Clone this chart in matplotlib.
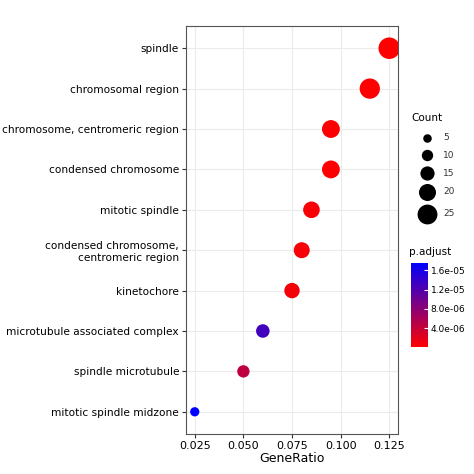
import matplotlib
matplotlib.use("Agg")
import matplotlib.pyplot as plt
import numpy as np
from matplotlib.colors import LinearSegmentedColormap, Normalize

terms = ["spindle", "chromosomal region", "chromosome, centromeric region", "condensed chromosome",
         "mitotic spindle", "condensed chromosome,\ncentromeric region", "kinetochore",
         "microtubule associated complex", "spindle microtubule", "mitotic spindle midzone"]
gene_ratio = [0.125, 0.115, 0.095, 0.095, 0.085, 0.080, 0.075, 0.060, 0.050, 0.025]
counts = [25, 23, 19, 19, 17, 16, 15, 12, 10, 5]
p_adjust = [1e-7, 2e-7, 3e-7, 3e-7, 5e-7, 6e-7, 8e-7, 1.3e-5, 4.5e-6, 1.75e-5]

cmap = LinearSegmentedColormap.from_list("rb", ["#FF0000", "#0000FF"])
norm = Normalize(vmin=min(p_adjust), vmax=max(p_adjust))

def size(c):
    r = 4.3 + (c - 5) / 20 * 5.7
    return (2 * r) ** 2 * 0.6

fig = plt.figure(figsize=(4.74, 4.74), dpi=100)
ax = fig.add_axes([186/474, 40/474, 212/474, 408/474])
n = len(terms)
y = np.arange(n)[::-1]
ax.scatter(gene_ratio, y, s=[size(c) for c in counts], c=p_adjust, cmap=cmap, norm=norm, zorder=3, linewidths=0)
ax.set_yticks(y)
ax.set_yticklabels(terms, fontsize=7.6, color="black")
ax.set_ylim(-0.55, n - 0.45)
ax.set_xlim(0.0205, 0.1295)
ax.set_xticks([0.025, 0.050, 0.075, 0.100, 0.125])
ax.set_xticklabels(["0.025", "0.050", "0.075", "0.100", "0.125"], fontsize=8)
ax.set_xlabel("GeneRatio", fontsize=9, labelpad=1)
ax.grid(True, color="#EBEBEB", linewidth=0.8, zorder=0)
ax.set_axisbelow(True)
for s in ax.spines.values():
    s.set_color("#555555"); s.set_linewidth(0.8)
ax.tick_params(length=3, color="#333333", pad=2)

fig.text(411/474, 1 - 118/474, "Count", fontsize=7.5, va="center")
lax = fig.add_axes([405/474, 1 - 225/474, 60/474, 98/474])
lax.set_xlim(0, 60); lax.set_ylim(225, 127); lax.axis("off")
for c, yy in zip([5, 10, 15, 20, 25], [138, 155, 173, 192, 214]):
    lax.scatter([22], [yy], s=size(c) * 0.85, color="black", linewidths=0)
    lax.text(38, yy, str(c), fontsize=6.5, va="center", color="#333333")

fig.text(409/474, 1 - 252/474, "p.adjust", fontsize=7.5, va="center")
cax = fig.add_axes([411/474, 1 - 347/474, 17/474, 84/474])
cb = fig.colorbar(plt.cm.ScalarMappable(norm=norm, cmap=cmap), cax=cax)
cb.set_ticks([4e-6, 8e-6, 1.2e-5, 1.6e-5])
cb.set_ticklabels(["4.0e-06", "8.0e-06", "1.2e-05", "1.6e-05"])
cb.ax.tick_params(labelsize=6.5, length=3, color="white", direction="in", pad=2)
cb.outline.set_visible(False)

fig.savefig("out.png", dpi=100, facecolor="white")
